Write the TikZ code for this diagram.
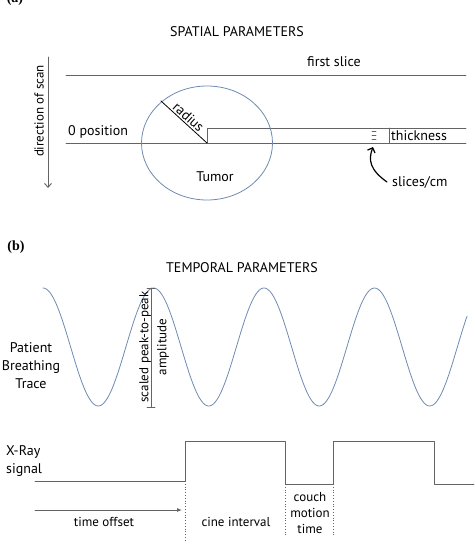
\documentclass[tikz,border=0pt]{standalone}
\usepackage{fontspec}
\setmainfont{PT Sans}
\newfontfamily\panelfont{Liberation Serif}
\usetikzlibrary{arrows.meta,positioning}
\definecolor{linegray}{RGB}{100,100,100}
\definecolor{traceblue}{RGB}{112,138,178}
\tikzset{
	axis/.style={draw=linegray,line width=0.9pt},
	trace/.style={draw=traceblue,line width=0.8pt},
	panel/.style={font=\panelfont\bfseries\fontsize{14}{14}\selectfont},
	txt/.style={font=\fontsize{13}{15}\selectfont,inner sep=1pt},
	bigtxt/.style={txt,font=\fontsize{14}{16}\selectfont},
}
\begin{document}
\begin{tikzpicture}[x=1pt,y=-1pt,>=Stealth,line join=round,line cap=round]
	\useasboundingbox (0,0) rectangle (474,543);
	\def\midy{347}
	\def\amp{59}
	\def\freq{3.258}
	% (a) spatial
	\node[panel] (pa) at (15,-1) {(a)};
	\node[bigtxt] (spatial) at (237,32) {SPATIAL PARAMETERS};
	\path (66,75) coordinate (F1)
	(466,75) coordinate (F2)
	(66,143) coordinate (Z1)
	(466,143) coordinate (Z2)
	(207,143) coordinate (O)
	(161,101) coordinate (R)
	(207,128) coordinate (T1)
	(466,128) coordinate (T2)
	(48,57) coordinate (D1)
	(48,188) coordinate (D2);
	\draw [axis] (F1)--(F2);
	\draw [axis] (Z1)--(Z2);
	\draw [axis] (O)--(T1)--(T2);
	\draw [axis,-{Straight Barb[length=4pt,width=7pt]}] (D1)--(D2);
	\node[txt,rotate=90] (scan) at (39,111) {direction of scan};
	\node[bigtxt] (first) at (334,62) {first slice};
	\node[bigtxt,anchor=west] (zero) at (67,132) {0 position};
	\draw [trace] (O) ellipse [x radius=65.5, y radius=57];
	\draw [line width=0.8pt] (R)--node[bigtxt,sloped,above,inner sep=1.5pt] (rad) {radius} (O);
	\node[bigtxt] (tumor) at (215,177) {Tumor};
	\foreach \y in {131,135,139}{
		\draw [linegray,line width=0.6pt] (372,\y)--(376,\y);
	}
	\draw [axis] (389,128)--(389,143);
	\node[bigtxt,anchor=west] (thick) at (390,136) {thickness};
	\node[bigtxt,anchor=west] (slices) at (391,182) {slices/cm};
	\draw [line width=1.2pt,-{Straight Barb[length=4pt,width=8pt]}] ([xshift=-4pt]slices.west) .. controls (370,170) and (368,160) .. (373,147);
	% (b) temporal
	\node[panel] (pb) at (16,247) {(b)};
	\node[bigtxt] (temporal) at (242,268) {TEMPORAL PARAMETERS};
	\draw [trace,smooth,samples=240] plot [domain=43:467] (\x,{\midy-\amp*cos(\freq*(\x-43))});
	\node[bigtxt,align=center] (patient) at (31,366) {Patient\\[2pt]Breathing\\[2pt]Trace};
	\path (151,288) coordinate (P1) (151,407) coordinate (P2);
	\draw [axis] (P1)--(P2);
	\foreach \p in {P1,P2}{
		\draw [axis] ([xshift=-4pt]\p)--([xshift=4pt]\p);
	}
	\node[txt,rotate=90,align=center,font=\fontsize{13}{18}\selectfont] (ampl) at (154,347) {scaled peak-to-peak\\amplitude};
	\node[bigtxt,align=left,anchor=west] (xray) at (5,461) {X-Ray\\[2pt]signal};
	\path (35,481) coordinate (S0)
	(185,481) coordinate (S1)
	(185,441) coordinate (S2)
	(285,441) coordinate (S3)
	(285,484) coordinate (S4)
	(333,484) coordinate (S5)
	(333,441) coordinate (S6)
	(434,441) coordinate (S7)
	(434,484) coordinate (S8)
	(474,484) coordinate (S9);
	\draw [axis] (S0)--(S1)--(S2)--(S3)--(S4)--(S5)--(S6)--(S7)--(S8)--(S9);
	\draw [linegray,line width=0.8pt,dotted,line cap=butt] (S1)--(185,543);
	\draw [linegray,line width=0.8pt,dotted,line cap=butt] (S4)--(285,537);
	\draw [linegray,line width=0.8pt,dotted,line cap=butt] (S5)--(333,537);
	\path (35,510) coordinate (A1) (182,510) coordinate (A2);
	\draw [axis,-{Latex[length=5pt,width=4pt]}] (A1)--(A2);
	\node[txt] (offset) at (104,522) {time offset};
	\node[txt] (cine) at (236,522) {cine interval};
	\node[txt,align=center,font=\fontsize{13}{16}\selectfont] (couch) at (310,513) {couch\\motion\\time};
\end{tikzpicture}
\end{document}
